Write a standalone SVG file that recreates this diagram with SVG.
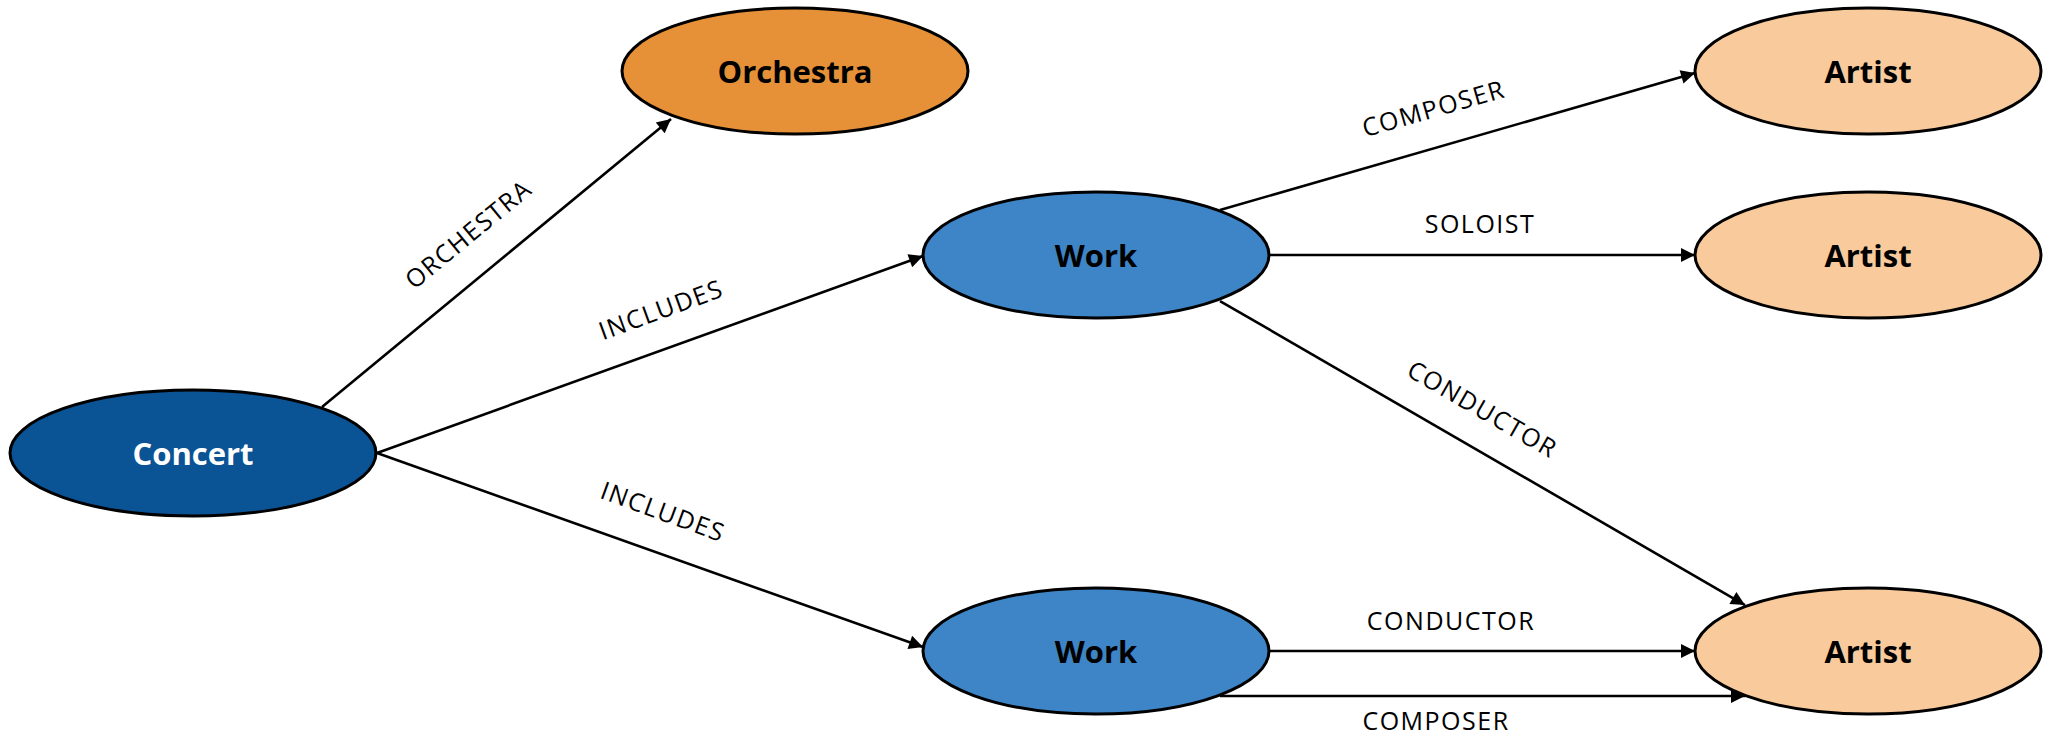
<svg xmlns="http://www.w3.org/2000/svg" width="2054" height="745" viewBox="0 0 2054 745">
<style>
.n{stroke:#000;stroke-width:3}
.t{font-family:"Open Sans","DejaVu Sans",sans-serif;font-weight:bold;font-size:31px;text-anchor:middle;dominant-baseline:central}
.e{stroke:#000;stroke-width:2.6;fill:none;marker-end:url(#a)}
.l{font-family:"Open Sans","DejaVu Sans",sans-serif;font-size:25px;letter-spacing:1.5px;text-anchor:middle;fill:#000}
</style>
<defs><marker id="a" viewBox="0 0 10 10" refX="10" refY="5" markerWidth="7" markerHeight="6" orient="auto" markerUnits="userSpaceOnUse" preserveAspectRatio="none"><path d="M0,0L10,5L0,10z"/></marker>
<marker id="a2" viewBox="0 0 10 10" refX="10" refY="5" markerWidth="20" markerHeight="14" orient="auto" markerUnits="userSpaceOnUse"><path d="M0,0L10,5L0,10z"/></marker></defs>
<rect width="2054" height="745" fill="#fff"/>
<g id="edges" style="--m:url(#a2)">
<path class="e" style="marker-end:url(#a2)" d="M322,407L671,119"/>
<path class="e" style="marker-end:url(#a2)" d="M377,453L923,256"/>
<path class="e" style="marker-end:url(#a2)" d="M377,453L923,647"/>
<path class="e" style="marker-end:url(#a2)" d="M1220,210L1695,73"/>
<path class="e" style="marker-end:url(#a2)" d="M1269,255L1695,255"/>
<path class="e" style="marker-end:url(#a2)" d="M1220,301L1745,605"/>
<path class="e" style="marker-end:url(#a2)" d="M1269,651L1695,651"/>
<path class="e" style="marker-end:url(#a2)" d="M1220,696L1745,696"/>
<text class="l" transform="translate(474,241) rotate(-39.5)">ORCHESTRA</text>
<text class="l" transform="translate(664,318) rotate(-20)">INCLUDES</text>
<text class="l" transform="translate(660,520) rotate(20)">INCLUDES</text>
<text class="l" transform="translate(1436,117) rotate(-16)">COMPOSER</text>
<text class="l" x="1480" y="233">SOLOIST</text>
<text class="l" transform="translate(1478,417) rotate(30)">CONDUCTOR</text>
<text class="l" x="1451" y="630">CONDUCTOR</text>
<text class="l" x="1436" y="730">COMPOSER</text>
</g>
<g id="concert"><ellipse class="n" cx="193" cy="453" rx="183" ry="63" fill="#0a5394"/><text class="t" x="193" y="453" fill="#fff">Concert</text></g>
<g id="orchestra"><ellipse class="n" cx="795" cy="71" rx="173" ry="63" fill="#e69138"/><text class="t" x="795" y="71">Orchestra</text></g>
<g id="work1"><ellipse class="n" cx="1096" cy="255" rx="173" ry="63" fill="#3d85c6"/><text class="t" x="1096" y="255">Work</text></g>
<g id="work2"><ellipse class="n" cx="1096" cy="651" rx="173" ry="63" fill="#3d85c6"/><text class="t" x="1096" y="651">Work</text></g>
<g id="artist1"><ellipse class="n" cx="1868" cy="71" rx="173" ry="63" fill="#f9cb9c"/><text class="t" x="1868" y="71">Artist</text></g>
<g id="artist2"><ellipse class="n" cx="1868" cy="255" rx="173" ry="63" fill="#f9cb9c"/><text class="t" x="1868" y="255">Artist</text></g>
<g id="artist3"><ellipse class="n" cx="1868" cy="651" rx="173" ry="63" fill="#f9cb9c"/><text class="t" x="1868" y="651">Artist</text></g>
</svg>
